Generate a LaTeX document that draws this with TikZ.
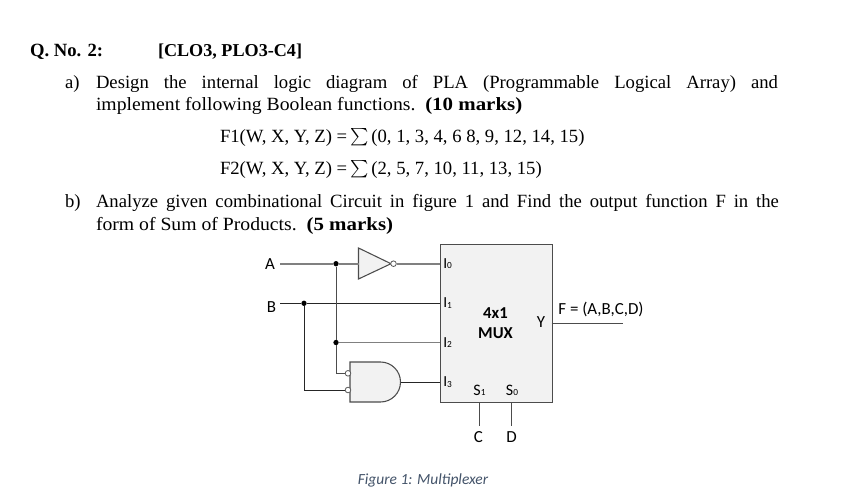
\documentclass[tikz,border=0pt]{standalone}
\usepackage{fontspec}
\setmainfont{Liberation Serif}
\newfontfamily\wide[FakeStretch=1.055,BoldFeatures={FakeStretch=1.12}]{Liberation Serif}
\newfontfamily\lab{Carlito}
\usetikzlibrary{calc}
\definecolor{gfill}{HTML}{F2F2F2}
\definecolor{gline}{HTML}{808080}
\definecolor{capc}{HTML}{44546A}
\newcommand{\subd}[1]{\raisebox{-0.4pt}{\fontsize{7}{7}\selectfont #1}}
\newcommand{\bigsig}{\hspace{-1pt}\raisebox{-0.6pt}{\scalebox{1.3}{$\sum$}}\hspace{-1.6pt}}
\tikzset{
  txt/.style={anchor=base west,inner sep=0pt,outer sep=0pt,font=\fontsize{14}{16}\selectfont},
  wtxt/.style={txt,font=\wide\fontsize{14}{16}\selectfont},
  lbl/.style={inner sep=0pt,font=\lab\fontsize{12}{12}\selectfont},
  biglbl/.style={inner sep=0pt,font=\lab\fontsize{12.7}{13}\selectfont},
  pin/.style={inner sep=0pt,anchor=west,font=\lab\fontsize{11.5}{12}\selectfont},
  thickw/.style={draw=gline,line width=1.3pt},
  thinw/.style={draw=black!85,line width=0.75pt},
  part/.style={draw=black!70,fill=gfill,line width=0.8pt},
  junction/.style={circle,fill=black,inner sep=0pt,minimum size=4pt},
  bubble/.style={circle,draw=black!65,fill=white,inner sep=0pt,minimum size=4.2pt,line width=0.6pt}
}
\begin{document}
\begin{tikzpicture}[x=0.75pt,y=-0.75pt]
\useasboundingbox (0,0) rectangle (842,499);
\fill[white] (0,0) rectangle (842,499);
% text
\node[txt] (q) at (30,56.5) {\textbf{Q. No. 2:}};
\node[txt] (clo) at (158,56.5) {\textbf{\fontsize{13.6}{16}\selectfont [CLO3, PLO3-C4]}};
\node[txt] (a) at (65,88.5) {a)};
\node[txt] (a1) at (96,88.5) {\makebox[511.5pt][s]{Design\hfill the\hfill internal\hfill logic\hfill diagram\hfill of\hfill PLA\hfill (Programmable\hfill Logical\hfill Array)\hfill and}};
\node[wtxt] (a2) at (96,110.5) {implement following Boolean functions.\ \ \textbf{(10 marks)}};
\node[txt] (f1) at (220,143) {F1(W, X, Y, Z) = \bigsig\ (0, 1, 3, 4, 6 8, 9, 12, 14, 15)};
\node[txt] (f2) at (220,175) {F2(W, X, Y, Z) = \bigsig\ (2, 5, 7, 10, 11, 13, 15)};
\node[txt] (b) at (65,207) {b)};
\node[txt] (b1) at (96,207) {\makebox[512.2pt][s]{Analyze\hfill given\hfill combinational\hfill Circuit\hfill in\hfill figure\hfill 1\hfill and\hfill Find\hfill the\hfill output\hfill function\hfill F\hfill in\hfill the}};
\node[wtxt] (b2) at (96,230) {form of Sum of Products.\ \ \textbf{(5 marks)}};
% mux
\node[part,minimum width=84pt,minimum height=118.5pt,inner sep=0pt,anchor=north west] (mux) at (439.5,244) {};
\node[inner sep=0pt,align=center,font=\lab\bfseries\fontsize{12.5}{15}\selectfont] (muxt) at (495.5,323) {4x1\\MUX};
\node[pin] (i0) at (443,263.7) {I\subd{0}};
\node[pin] (i1) at (443,303.3) {I\subd{1}};
\node[pin] (i2) at (443,342.5) {I\subd{2}};
\node[pin] (i3) at (443,382) {I\subd{3}};
\node[lbl] (s1) at (479.5,390.5) {S\subd{1}};
\node[lbl] (s0) at (512,390.5) {S\subd{0}};
\node[biglbl] (y) at (541,322) {Y};
\coordinate (i0w) at (439.5,263.7);
\coordinate (i1w) at (439.5,303.3);
\coordinate (i2w) at (439.5,342.5);
\coordinate (i3w) at (439.5,382);
\coordinate (ye) at (551.5,323);
\coordinate (s1s) at (479.7,402);
\coordinate (s0s) at (511.5,402);
% inputs
\node[biglbl] (A) at (270,264) {A};
\node[biglbl] (B) at (271.5,307) {B};
\coordinate (Ae) at (280,263.7);
\coordinate (Be) at (280,303.3);
\node[junction] (ja) at (336,263.7) {};
\node[junction] (jb) at (304,303.3) {};
\node[junction] (jc) at (336,342.5) {};
% inverter
\draw[part] (358.5,248) coordinate (invtop) -- (391,263.7) coordinate (invtip) -- (358.5,279) -- cycle;
\coordinate (invin) at (358.5,263.7);
\node[bubble] (invb) at (393.5,263.7) {};
% and gate
\draw[part] (350,362) -- (380.5,362) arc[start angle=-90,end angle=90,radius=20] -- (350,402) -- cycle;
\coordinate (ando) at (400.5,382);
\node[bubble] (anda) at (348,373.3) {};
\node[bubble] (andb) at (348,390) {};
% wires
\draw[thickw] (Ae) -- (ja) -- (invin);
\draw[thickw] (invb) -- (i0w);
\draw[thinw] (Be) -- (jb) -- (i1w);
\draw[thinw,draw=black!70] (ja) -- (jc) |- (anda);
\draw[thickw] (jc) -- (i2w);
\draw[thinw] (jb) |- (andb);
\draw[thinw] (ando) -- (i3w);
% output
\node[biglbl] (F) at (601,309) {F = (A,B,C,D)};
\coordinate (fe) at (623,323);
\draw[thinw,draw=black!70] (ye) -- (fe);
\node[biglbl] (C) at (478.5,437) {C};
\node[biglbl] (D) at (511.5,437) {D};
\draw[thinw,draw=black!70] (s1s) -- ++(0,24);
\draw[thinw,draw=black!70] (s0s) -- ++(0,24);
\node[lbl,font=\lab\itshape\fontsize{11.6}{12}\selectfont,text=capc] (cap) at (423,480) {Figure 1: Multiplexer};
\end{tikzpicture}
\end{document}
